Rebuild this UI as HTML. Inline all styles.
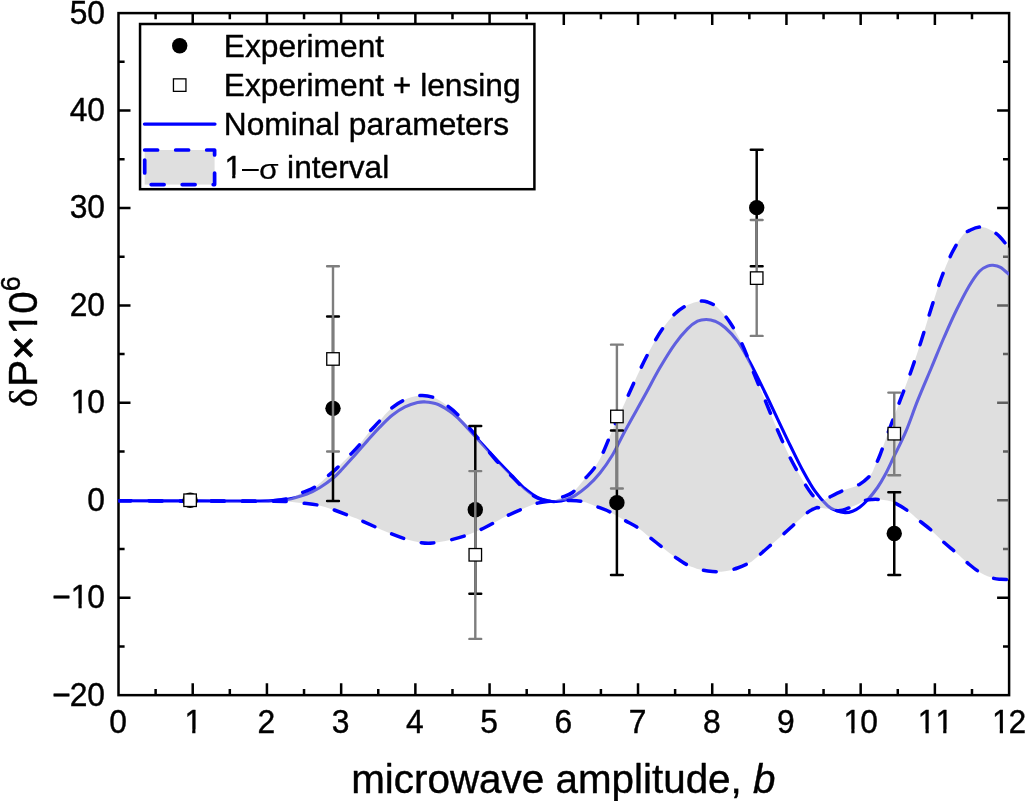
<!DOCTYPE html>
<html lang="en"><head><meta charset="utf-8"><title>Figure</title>
<style>html,body{margin:0;padding:0;background:#fff;}svg{display:block;}text{font-family:"Liberation Sans",Arial,sans-serif;fill:#000;font-kerning:none;stroke:#000;stroke-width:0.4px;stroke-linejoin:round;}</style>
</head><body>
<svg width="1025" height="801" viewBox="0 0 1025 801">
<rect width="1025" height="801" fill="#fff"/>
<g stroke="#000" stroke-width="2.5" fill="none" stroke-linecap="butt">
<rect x="118.50" y="13.10" width="890.60" height="682.05"/>
<path d="M155.61,695.15v-6.1 M155.61,13.10v6.1 M192.72,695.15v-12.0 M192.72,13.10v12.0 M229.82,695.15v-6.1 M229.82,13.10v6.1 M266.93,695.15v-12.0 M266.93,13.10v12.0 M304.04,695.15v-6.1 M304.04,13.10v6.1 M341.15,695.15v-12.0 M341.15,13.10v12.0 M378.26,695.15v-6.1 M378.26,13.10v6.1 M415.37,695.15v-12.0 M415.37,13.10v12.0 M452.48,695.15v-6.1 M452.48,13.10v6.1 M489.58,695.15v-12.0 M489.58,13.10v12.0 M526.69,695.15v-6.1 M526.69,13.10v6.1 M563.80,695.15v-12.0 M563.80,13.10v12.0 M600.91,695.15v-6.1 M600.91,13.10v6.1 M638.02,695.15v-12.0 M638.02,13.10v12.0 M675.12,695.15v-6.1 M675.12,13.10v6.1 M712.23,695.15v-12.0 M712.23,13.10v12.0 M749.34,695.15v-6.1 M749.34,13.10v6.1 M786.45,695.15v-12.0 M786.45,13.10v12.0 M823.56,695.15v-6.1 M823.56,13.10v6.1 M860.67,695.15v-12.0 M860.67,13.10v12.0 M897.78,695.15v-6.1 M897.78,13.10v6.1 M934.88,695.15v-12.0 M934.88,13.10v12.0 M971.99,695.15v-6.1 M971.99,13.10v6.1 M118.50,646.43h6.1 M1009.10,646.43h-6.1 M118.50,597.71h12.0 M1009.10,597.71h-12.0 M118.50,549.00h6.1 M1009.10,549.00h-6.1 M118.50,500.28h12.0 M1009.10,500.28h-12.0 M118.50,451.56h6.1 M1009.10,451.56h-6.1 M118.50,402.84h12.0 M1009.10,402.84h-12.0 M118.50,354.12h6.1 M1009.10,354.12h-6.1 M118.50,305.41h12.0 M1009.10,305.41h-12.0 M118.50,256.69h6.1 M1009.10,256.69h-6.1 M118.50,207.97h12.0 M1009.10,207.97h-12.0 M118.50,159.25h6.1 M1009.10,159.25h-6.1 M118.50,110.54h12.0 M1009.10,110.54h-12.0 M118.50,61.82h6.1 M1009.10,61.82h-6.1"/>
</g>
<clipPath id="c"><rect x="118.5" y="13.1" width="890.6" height="682.0"/></clipPath>
<g clip-path="url(#c)">
<path d="M118.2,500.8 C131.8,500.8 176.4,500.9 200.0,500.9 C223.6,500.9 245.4,501.2 260.0,501.0 C274.6,500.8 279.6,500.6 287.5,499.4 C295.4,498.2 302.1,495.7 307.5,493.8 C312.9,491.8 315.6,490.2 320.0,487.5 C324.4,484.8 330.0,480.6 333.8,477.5 C337.5,474.4 339.0,472.5 342.5,468.8 C346.0,465.0 350.8,459.7 355.0,455.0 C359.2,450.3 363.3,445.3 367.5,440.6 C371.7,435.9 375.8,431.2 380.0,426.9 C384.2,422.6 388.3,418.3 392.5,415.0 C396.7,411.7 400.8,409.0 405.0,406.9 C409.2,404.8 414.2,403.3 417.5,402.5 C420.8,401.7 421.9,401.7 425.0,401.9 C428.1,402.1 432.3,402.3 436.2,403.8 C440.2,405.2 445.1,408.2 448.8,410.6 C452.4,413.0 453.7,413.8 458.1,418.1 C462.5,422.4 468.9,429.6 475.0,436.2 C481.1,442.9 488.8,451.3 495.0,458.0 C501.2,464.7 507.5,471.1 512.5,476.2 C517.5,481.4 520.8,485.2 525.0,488.8 C529.2,492.3 533.3,495.4 537.5,497.5 C541.7,499.6 546.9,500.6 550.0,501.2 C553.1,501.9 553.8,501.7 556.2,501.5 C558.8,501.3 561.9,501.0 565.0,500.0 C568.1,499.0 571.2,497.9 575.0,495.6 C578.8,493.3 583.3,490.0 587.5,486.2 C591.7,482.5 595.8,478.2 600.0,473.0 C604.2,467.8 608.3,462.0 612.5,455.0 C616.7,448.0 619.6,441.0 625.0,431.0 C630.4,421.0 639.2,405.6 645.0,395.0 C650.8,384.4 655.0,376.0 660.0,367.5 C665.0,359.0 670.4,350.2 675.0,343.8 C679.6,337.3 683.8,332.5 687.5,328.8 C691.2,325.0 694.4,322.8 697.5,321.2 C700.6,319.7 703.3,319.5 706.2,319.5 C709.2,319.5 711.9,319.9 715.0,321.2 C718.1,322.6 721.2,324.2 725.0,327.5 C728.8,330.8 733.3,335.4 737.5,341.2 C741.7,347.1 745.4,354.0 750.0,362.5 C754.6,371.0 760.4,383.1 765.0,392.5 C769.6,401.9 773.3,410.0 777.5,418.8 C781.7,427.5 785.8,436.5 790.0,445.0 C794.2,453.5 798.3,462.3 802.5,470.0 C806.7,477.7 810.8,485.3 815.0,491.2 C819.2,497.2 824.0,502.4 827.5,505.6 C831.0,508.8 833.3,509.4 836.2,510.6 C839.2,511.8 842.3,512.5 845.0,512.6 C847.7,512.7 850.0,512.2 852.5,511.2 C855.0,510.3 857.5,508.8 860.0,506.9 C862.5,505.0 864.6,503.2 867.5,500.0 C870.4,496.8 874.6,491.7 877.5,487.5 C880.4,483.3 882.3,480.0 885.0,475.0 C887.7,470.0 890.0,464.8 893.5,457.5 C897.0,450.2 902.0,440.8 906.0,431.2 C910.0,421.7 913.5,410.9 917.8,400.2 C922.0,389.6 927.1,378.0 931.5,367.5 C935.9,357.0 939.8,347.1 944.0,337.5 C948.2,327.9 952.3,318.5 956.5,310.0 C960.7,301.5 965.2,292.7 969.0,286.2 C972.8,279.8 976.4,274.6 979.5,271.2 C982.6,267.9 985.2,267.2 987.5,266.2 C989.8,265.2 990.8,265.1 993.0,265.3 C995.2,265.5 997.8,265.8 1000.5,267.3 C1003.2,268.8 1007.8,273.3 1009.2,274.5" fill="none" stroke="#0000ff" stroke-width="3.1" stroke-linejoin="round"/>
<path d="M118.2,500.8 C131.8,500.8 176.4,500.9 200.0,501.0 C223.6,501.1 245.4,501.6 260.0,501.2 C274.6,500.8 280.4,500.2 287.5,498.8 C294.6,497.3 297.9,494.5 302.5,492.5 C307.1,490.5 310.8,489.6 315.0,486.9 C319.2,484.2 324.2,479.1 327.5,476.2 C330.8,473.4 331.5,473.3 335.0,470.0 C338.5,466.7 344.8,460.3 348.8,456.2 C352.7,452.2 355.4,449.6 358.8,445.6 C362.1,441.6 365.4,436.4 368.8,432.5 C372.1,428.6 375.2,425.8 378.8,421.9 C382.3,418.0 385.9,412.9 390.0,409.4 C394.1,405.8 398.2,402.9 403.1,400.6 C408.0,398.3 414.3,396.1 419.4,395.6 C424.5,395.1 429.3,395.9 433.8,397.5 C438.2,399.1 442.3,402.2 446.2,405.0 C450.2,407.8 452.7,409.5 457.5,414.4 C462.3,419.3 468.8,427.1 475.0,434.5 C481.2,441.9 488.8,451.9 495.0,459.0 C501.2,466.1 507.5,471.9 512.5,477.0 C517.5,482.1 520.8,486.0 525.0,489.5 C529.2,493.0 533.3,496.0 537.5,498.0 C541.7,500.0 546.0,501.3 550.0,501.2 C554.0,501.2 557.5,499.0 561.2,497.5 C565.0,496.0 568.8,495.4 572.5,492.5 C576.2,489.6 580.2,484.0 583.8,480.0 C587.3,476.0 590.6,473.1 593.8,468.8 C596.9,464.4 599.4,460.2 602.5,453.8 C605.6,447.3 608.8,438.5 612.5,430.0 C616.2,421.5 620.8,411.7 625.0,402.5 C629.2,393.3 633.3,383.8 637.5,375.0 C641.7,366.2 645.8,357.7 650.0,350.0 C654.2,342.3 658.3,334.8 662.5,328.8 C666.7,322.7 670.8,317.7 675.0,313.8 C679.2,309.8 683.3,307.1 687.5,305.0 C691.7,302.9 696.7,301.8 700.0,301.2 C703.3,300.8 704.6,301.0 707.5,302.0 C710.4,303.0 713.8,304.1 717.5,307.5 C721.2,310.9 725.8,316.2 730.0,322.5 C734.2,328.8 738.8,337.1 742.5,345.0 C746.2,352.9 748.8,360.8 752.5,370.0 C756.2,379.2 760.8,390.0 765.0,400.0 C769.2,410.0 773.3,420.4 777.5,430.0 C781.7,439.6 785.8,449.2 790.0,457.5 C794.2,465.8 798.6,473.5 802.5,480.0 C806.4,486.5 810.3,492.7 813.5,496.2 C816.7,499.8 820.5,500.4 821.9,501.2 C823.2,500.5 826.2,498.8 830.0,496.9 C833.8,495.0 839.5,492.1 844.4,490.0 C849.3,487.9 855.0,486.9 859.4,484.4 C863.8,481.9 868.0,478.1 870.6,475.0 C873.2,471.9 873.4,469.3 875.0,466.0 C876.6,462.7 877.5,461.4 880.0,455.0 C882.5,448.6 886.6,436.6 890.0,427.5 C893.4,418.4 896.7,409.8 900.2,400.2 C903.8,390.7 908.0,380.0 911.5,370.0 C915.0,360.0 918.2,350.4 921.5,340.0 C924.8,329.6 928.2,317.9 931.5,307.5 C934.8,297.1 938.2,286.5 941.5,277.5 C944.8,268.5 948.1,260.6 951.5,253.8 C954.9,246.9 958.8,240.2 962.0,236.2 C965.2,232.3 967.4,231.5 970.5,230.0 C973.6,228.5 977.2,227.0 980.5,227.0 C983.8,227.0 987.2,228.3 990.5,230.0 C993.8,231.7 996.9,233.9 1000.0,237.0 C1003.1,240.1 1007.7,246.6 1009.2,248.5 L1009.2,579.5 C1007.8,579.5 1003.6,579.5 1001.0,579.3 C998.4,579.1 996.8,579.3 993.5,578.3 C990.2,577.2 985.2,575.4 981.0,573.0 C976.8,570.6 972.7,567.2 968.5,563.8 C964.3,560.3 960.2,556.1 956.0,552.5 C951.8,548.9 947.7,545.8 943.5,542.0 C939.3,538.2 935.2,533.7 931.0,530.0 C926.8,526.3 922.4,523.2 918.5,520.0 C914.6,516.8 911.4,513.4 907.5,510.6 C903.6,507.8 898.3,504.8 895.0,503.1 C891.7,501.4 890.0,501.2 887.5,500.6 C885.0,500.0 882.5,499.7 880.0,499.5 C877.5,499.3 874.8,499.3 872.5,499.4 C870.2,499.5 868.5,499.5 866.2,500.2 C864.0,501.0 861.5,502.5 858.8,503.8 C856.0,505.0 852.7,506.4 850.0,507.5 C847.3,508.6 844.8,509.7 842.5,510.2 C840.2,510.8 838.8,510.9 836.2,510.6 C833.8,510.4 830.1,509.2 827.5,508.8 C824.9,508.3 822.4,508.1 820.6,507.9 C818.8,507.7 817.5,507.6 816.9,507.5 C816.2,507.8 814.3,508.4 812.5,509.4 C810.7,510.4 809.2,511.1 806.0,513.8 C802.8,516.4 797.7,521.2 793.5,525.0 C789.3,528.8 785.2,532.6 781.0,536.2 C776.8,539.9 772.7,543.4 768.5,547.0 C764.3,550.6 759.1,555.4 756.0,558.0 C752.9,560.6 753.1,560.8 750.0,562.5 C746.9,564.2 741.7,566.5 737.5,568.0 C733.3,569.5 729.2,570.7 725.0,571.2 C720.8,571.8 716.7,571.8 712.5,571.5 C708.3,571.2 704.2,570.6 700.0,569.5 C695.8,568.4 691.7,567.1 687.5,565.0 C683.3,562.9 679.2,559.9 675.0,557.0 C670.8,554.1 666.7,550.8 662.5,547.5 C658.3,544.2 654.2,540.8 650.0,537.5 C645.8,534.2 641.7,530.3 637.5,527.5 C633.3,524.7 629.6,523.1 625.0,520.5 C620.4,517.9 614.6,514.2 610.0,511.9 C605.4,509.6 602.1,508.6 597.5,506.9 C592.9,505.2 587.5,502.6 582.5,501.5 C577.5,500.4 572.9,500.6 567.5,500.6 C562.1,500.6 555.0,500.8 550.0,501.2 C545.0,501.7 542.3,501.7 537.5,503.1 C532.7,504.5 526.2,507.3 521.2,509.4 C516.2,511.5 511.0,513.9 507.5,515.6 C504.0,517.3 503.8,517.4 500.0,519.4 C496.2,521.4 490.4,524.9 485.0,527.5 C479.6,530.1 473.3,532.9 467.5,535.0 C461.7,537.1 455.8,538.7 450.0,540.0 C444.2,541.3 437.5,542.6 432.5,543.0 C427.5,543.4 424.6,543.2 420.0,542.5 C415.4,541.8 410.8,540.6 405.0,538.8 C399.2,536.9 392.5,534.4 385.0,531.2 C377.5,528.1 366.2,522.7 360.0,520.0 C353.8,517.3 352.1,516.8 347.5,515.0 C342.9,513.2 337.5,511.1 332.5,509.4 C327.5,507.7 322.5,506.1 317.5,505.0 C312.5,503.9 307.9,503.7 302.5,503.1 C297.1,502.5 292.1,501.7 285.0,501.4 C277.9,501.1 274.2,501.3 260.0,501.2 C245.8,501.1 223.6,501.1 200.0,501.0 C176.4,500.9 131.8,500.8 118.2,500.8 Z" fill="#c0c0c0" fill-opacity="0.5" stroke="none"/>
<path d="M118.2,500.8 C131.8,500.8 176.4,500.9 200.0,501.0 C223.6,501.1 245.4,501.6 260.0,501.2 C274.6,500.8 280.4,500.2 287.5,498.8 C294.6,497.3 297.9,494.5 302.5,492.5 C307.1,490.5 310.8,489.6 315.0,486.9 C319.2,484.2 324.2,479.1 327.5,476.2 C330.8,473.4 331.5,473.3 335.0,470.0 C338.5,466.7 344.8,460.3 348.8,456.2 C352.7,452.2 355.4,449.6 358.8,445.6 C362.1,441.6 365.4,436.4 368.8,432.5 C372.1,428.6 375.2,425.8 378.8,421.9 C382.3,418.0 385.9,412.9 390.0,409.4 C394.1,405.8 398.2,402.9 403.1,400.6 C408.0,398.3 414.3,396.1 419.4,395.6 C424.5,395.1 429.3,395.9 433.8,397.5 C438.2,399.1 442.3,402.2 446.2,405.0 C450.2,407.8 452.7,409.5 457.5,414.4 C462.3,419.3 468.8,427.1 475.0,434.5 C481.2,441.9 488.8,451.9 495.0,459.0 C501.2,466.1 507.5,471.9 512.5,477.0 C517.5,482.1 520.8,486.0 525.0,489.5 C529.2,493.0 533.3,496.0 537.5,498.0 C541.7,500.0 546.0,501.3 550.0,501.2 C554.0,501.2 557.5,499.0 561.2,497.5 C565.0,496.0 568.8,495.4 572.5,492.5 C576.2,489.6 580.2,484.0 583.8,480.0 C587.3,476.0 590.6,473.1 593.8,468.8 C596.9,464.4 599.4,460.2 602.5,453.8 C605.6,447.3 608.8,438.5 612.5,430.0 C616.2,421.5 620.8,411.7 625.0,402.5 C629.2,393.3 633.3,383.8 637.5,375.0 C641.7,366.2 645.8,357.7 650.0,350.0 C654.2,342.3 658.3,334.8 662.5,328.8 C666.7,322.7 670.8,317.7 675.0,313.8 C679.2,309.8 683.3,307.1 687.5,305.0 C691.7,302.9 696.7,301.8 700.0,301.2 C703.3,300.8 704.6,301.0 707.5,302.0 C710.4,303.0 713.8,304.1 717.5,307.5 C721.2,310.9 725.8,316.2 730.0,322.5 C734.2,328.8 738.8,337.1 742.5,345.0 C746.2,352.9 748.8,360.8 752.5,370.0 C756.2,379.2 760.8,390.0 765.0,400.0 C769.2,410.0 773.3,420.4 777.5,430.0 C781.7,439.6 785.8,449.2 790.0,457.5 C794.2,465.8 798.6,473.5 802.5,480.0 C806.4,486.5 810.3,492.7 813.5,496.2 C816.7,499.8 820.5,500.4 821.9,501.2" fill="none" stroke="#0000ff" stroke-width="3.5" stroke-dasharray="12.9 18.1" stroke-linecap="round" stroke-linejoin="round"/>
<path d="M821.9,501.2 C823.2,500.5 826.2,498.8 830.0,496.9 C833.8,495.0 839.5,492.1 844.4,490.0 C849.3,487.9 855.0,486.9 859.4,484.4 C863.8,481.9 868.0,478.1 870.6,475.0 C873.2,471.9 873.4,469.3 875.0,466.0 C876.6,462.7 877.5,461.4 880.0,455.0 C882.5,448.6 886.6,436.6 890.0,427.5 C893.4,418.4 896.7,409.8 900.2,400.2 C903.8,390.7 908.0,380.0 911.5,370.0 C915.0,360.0 918.2,350.4 921.5,340.0 C924.8,329.6 928.2,317.9 931.5,307.5 C934.8,297.1 938.2,286.5 941.5,277.5 C944.8,268.5 948.1,260.6 951.5,253.8 C954.9,246.9 958.8,240.2 962.0,236.2 C965.2,232.3 967.4,231.5 970.5,230.0 C973.6,228.5 977.2,227.0 980.5,227.0 C983.8,227.0 987.2,228.3 990.5,230.0 C993.8,231.7 996.9,233.9 1000.0,237.0 C1003.1,240.1 1007.7,246.6 1009.2,248.5" fill="none" stroke="#0000ff" stroke-width="3.5" stroke-dasharray="12.9 18.1" stroke-dashoffset="-9.3" stroke-linecap="round" stroke-linejoin="round"/>
<path d="M118.2,500.8 C131.8,500.8 176.4,500.9 200.0,501.0 C223.6,501.1 245.8,501.1 260.0,501.2 C274.2,501.3 277.9,501.1 285.0,501.4 C292.1,501.7 297.1,502.5 302.5,503.1 C307.9,503.7 312.5,503.9 317.5,505.0 C322.5,506.1 327.5,507.7 332.5,509.4 C337.5,511.1 342.9,513.2 347.5,515.0 C352.1,516.8 353.8,517.3 360.0,520.0 C366.2,522.7 377.5,528.1 385.0,531.2 C392.5,534.4 399.2,536.9 405.0,538.8 C410.8,540.6 415.4,541.8 420.0,542.5 C424.6,543.2 427.5,543.4 432.5,543.0 C437.5,542.6 444.2,541.3 450.0,540.0 C455.8,538.7 461.7,537.1 467.5,535.0 C473.3,532.9 479.6,530.1 485.0,527.5 C490.4,524.9 496.2,521.4 500.0,519.4 C503.8,517.4 504.0,517.3 507.5,515.6 C511.0,513.9 516.2,511.5 521.2,509.4 C526.2,507.3 532.7,504.5 537.5,503.1 C542.3,501.7 545.0,501.7 550.0,501.2 C555.0,500.8 562.1,500.6 567.5,500.6 C572.9,500.6 577.5,500.4 582.5,501.5 C587.5,502.6 592.9,505.2 597.5,506.9 C602.1,508.6 605.4,509.6 610.0,511.9 C614.6,514.2 620.4,517.9 625.0,520.5 C629.6,523.1 633.3,524.7 637.5,527.5 C641.7,530.3 645.8,534.2 650.0,537.5 C654.2,540.8 658.3,544.2 662.5,547.5 C666.7,550.8 670.8,554.1 675.0,557.0 C679.2,559.9 683.3,562.9 687.5,565.0 C691.7,567.1 695.8,568.4 700.0,569.5 C704.2,570.6 708.3,571.2 712.5,571.5 C716.7,571.8 720.8,571.8 725.0,571.2 C729.2,570.7 733.3,569.5 737.5,568.0 C741.7,566.5 746.9,564.2 750.0,562.5 C753.1,560.8 752.9,560.6 756.0,558.0 C759.1,555.4 764.3,550.6 768.5,547.0 C772.7,543.4 776.8,539.9 781.0,536.2 C785.2,532.6 789.3,528.8 793.5,525.0 C797.7,521.2 802.8,516.4 806.0,513.8 C809.2,511.1 810.7,510.4 812.5,509.4 C814.3,508.4 816.2,507.8 816.9,507.5 C817.5,507.6 818.8,507.7 820.6,507.9 C822.4,508.1 824.9,508.3 827.5,508.8 C830.1,509.2 833.8,510.4 836.2,510.6 C838.8,510.9 840.2,510.8 842.5,510.2 C844.8,509.7 847.3,508.6 850.0,507.5 C852.7,506.4 856.0,505.0 858.8,503.8 C861.5,502.5 864.0,501.0 866.2,500.2 C868.5,499.5 870.2,499.5 872.5,499.4 C874.8,499.3 877.5,499.3 880.0,499.5 C882.5,499.7 885.0,500.0 887.5,500.6 C890.0,501.2 891.7,501.4 895.0,503.1 C898.3,504.8 903.6,507.8 907.5,510.6 C911.4,513.4 914.6,516.8 918.5,520.0 C922.4,523.2 926.8,526.3 931.0,530.0 C935.2,533.7 939.3,538.2 943.5,542.0 C947.7,545.8 951.8,548.9 956.0,552.5 C960.2,556.1 964.3,560.3 968.5,563.8 C972.7,567.2 976.8,570.6 981.0,573.0 C985.2,575.4 990.2,577.2 993.5,578.3 C996.8,579.3 998.4,579.1 1001.0,579.3 C1003.6,579.5 1007.8,579.5 1009.2,579.5" fill="none" stroke="#0000ff" stroke-width="3.5" stroke-dasharray="12.9 18.1" stroke-linecap="round" stroke-linejoin="round"/>
</g>
<g stroke="#000" stroke-width="2.50" fill="none" stroke-linecap="round">
<path d="M333.00,501.12V316.40 M327.10,501.12h11.80 M327.10,316.40h11.80 M475.30,593.77V426.00 M469.40,593.77h11.80 M469.40,426.00h11.80 M616.90,574.97V430.58 M611.00,574.97h11.80 M611.00,430.58h11.80 M756.70,266.22V149.69 M750.80,266.22h11.80 M750.80,149.69h11.80 M894.25,574.97V492.35 M888.35,574.97h11.80 M888.35,492.35h11.80"/>
</g>
<circle cx="190.10" cy="500.24" r="7.7" fill="#000"/>
<circle cx="333.00" cy="408.37" r="7.7" fill="#000"/>
<circle cx="475.30" cy="509.69" r="7.7" fill="#000"/>
<circle cx="616.90" cy="502.68" r="7.7" fill="#000"/>
<circle cx="756.70" cy="207.66" r="7.7" fill="#000"/>
<circle cx="894.25" cy="533.47" r="7.7" fill="#000"/>
<g stroke="#7e7e7e" stroke-width="2.40" fill="none" stroke-linecap="round">
<path d="M333.00,451.53V266.22 M327.10,451.53h11.80 M327.10,266.22h11.80 M475.30,638.88V471.11 M469.40,638.88h11.80 M469.40,471.11h11.80 M616.90,488.55V344.65 M611.00,488.55h11.80 M611.00,344.65h11.80 M756.70,335.88V219.94 M750.80,335.88h11.80 M750.80,219.94h11.80 M894.25,475.20V392.58 M888.35,475.20h11.80 M888.35,392.58h11.80"/>
</g>
<rect x="183.85" y="493.99" width="12.5" height="12.5" fill="#fff" stroke="#000" stroke-width="1.3"/>
<rect x="326.75" y="352.72" width="12.5" height="12.5" fill="#fff" stroke="#000" stroke-width="1.3"/>
<rect x="469.05" y="548.55" width="12.5" height="12.5" fill="#fff" stroke="#000" stroke-width="1.3"/>
<rect x="610.65" y="410.20" width="12.5" height="12.5" fill="#fff" stroke="#000" stroke-width="1.3"/>
<rect x="750.45" y="271.86" width="12.5" height="12.5" fill="#fff" stroke="#000" stroke-width="1.3"/>
<rect x="888.00" y="427.45" width="12.5" height="12.5" fill="#fff" stroke="#000" stroke-width="1.3"/>
<g font-size="31.8px">
<g transform="translate(0,733.20) scale(1,1.04)">
<text x="109.16" y="0">0</text>
</g>
<g transform="translate(0,733.20) scale(1,1.04)">
<text x="184.42" y="0">1</text>
<path fill="#fff" d="M184.85,-3.58h7.37v5.78h-7.37z M195.43,-3.58h7.13v5.78h-7.13z"/>
</g>
<g transform="translate(0,733.20) scale(1,1.04)">
<text x="257.59" y="0">2</text>
</g>
<g transform="translate(0,733.20) scale(1,1.04)">
<text x="331.81" y="0">3</text>
</g>
<g transform="translate(0,733.20) scale(1,1.04)">
<text x="406.02" y="0">4</text>
</g>
<g transform="translate(0,733.20) scale(1,1.04)">
<text x="480.24" y="0">5</text>
</g>
<g transform="translate(0,733.20) scale(1,1.04)">
<text x="554.46" y="0">6</text>
</g>
<g transform="translate(0,733.20) scale(1,1.04)">
<text x="628.67" y="0">7</text>
</g>
<g transform="translate(0,733.20) scale(1,1.04)">
<text x="702.89" y="0">8</text>
</g>
<g transform="translate(0,733.20) scale(1,1.04)">
<text x="777.11" y="0">9</text>
</g>
<g transform="translate(0,733.20) scale(1,1.04)">
<text x="843.53 860.17" y="0">10</text>
<path fill="#fff" d="M843.95,-3.58h7.37v5.78h-7.37z M854.54,-3.58h7.13v5.78h-7.13z"/>
</g>
<g transform="translate(0,733.20) scale(1,1.04)">
<text x="917.75 935.43" y="0">11</text>
<path fill="#fff" d="M918.17,-3.58h7.37v5.78h-7.37z M928.75,-3.58h7.13v5.78h-7.13z"/>
<path fill="#fff" d="M935.85,-3.58h7.37v5.78h-7.37z M946.44,-3.58h7.13v5.78h-7.13z"/>
</g>
<g transform="translate(0,733.20) scale(1,1.04)">
<text x="991.96 1008.60" y="0">12</text>
<path fill="#fff" d="M992.39,-3.58h7.37v5.78h-7.37z M1002.97,-3.58h7.13v5.78h-7.13z"/>
</g>
<g transform="translate(0,705.65) scale(1,1.04)">
<text x="52.11 69.63 87.31" y="0">−20</text>
</g>
<g transform="translate(0,608.21) scale(1,1.04)">
<text x="52.11 70.68 87.31" y="0">−10</text>
<path fill="#fff" d="M71.10,-3.58h7.37v5.78h-7.37z M81.69,-3.58h7.13v5.78h-7.13z"/>
</g>
<g transform="translate(0,510.78) scale(1,1.04)">
<text x="87.31" y="0">0</text>
</g>
<g transform="translate(0,413.34) scale(1,1.04)">
<text x="70.68 87.31" y="0">10</text>
<path fill="#fff" d="M71.10,-3.58h7.37v5.78h-7.37z M81.69,-3.58h7.13v5.78h-7.13z"/>
</g>
<g transform="translate(0,315.91) scale(1,1.04)">
<text x="69.63 87.31" y="0">20</text>
</g>
<g transform="translate(0,218.47) scale(1,1.04)">
<text x="69.63 87.31" y="0">30</text>
</g>
<g transform="translate(0,121.04) scale(1,1.04)">
<text x="69.63 87.31" y="0">40</text>
</g>
<g transform="translate(0,23.60) scale(1,1.04)">
<text x="69.63 87.31" y="0">50</text>
</g>
</g>
<text x="351.2" y="792.6" font-size="40.4px">microwave amplitude, <tspan font-style="italic">b</tspan></text>
<g transform="translate(36.7,407.3) rotate(-90)" font-size="40.4px">
<text x="0" y="0"><tspan font-family="'Liberation Serif',serif">δ</tspan><tspan dx="1.6">P</tspan><tspan style="stroke-width:1.1px">×</tspan><tspan dx="1.33">1</tspan><tspan dx="-1.33">0</tspan><tspan font-size="27px" dy="-16.3">6</tspan></text>
<path fill="#fff" d="M73.59,-4.22h8.88v6.42h-8.88z M86.44,-4.22h8.57v6.42h-8.57z"/>
</g>
<rect x="140.05" y="24" width="394.35" height="165.2" fill="#fff" stroke="#000" stroke-width="2.5"/>
<circle cx="179.7" cy="45.8" r="7.7" fill="#000"/>
<rect x="173.45" y="78.85" width="12.5" height="12.5" fill="#fff" stroke="#000" stroke-width="1.3"/>
<path d="M144.4,124.1H215" stroke="#0000ff" stroke-width="3.2" stroke-linecap="round" fill="none"/>
<rect x="144.7" y="150" width="69.9" height="34.6" fill="#dfdfdf" stroke="#0000ff" stroke-width="3.7" stroke-dasharray="12.9 18.1" stroke-linecap="round" stroke-linejoin="round"/>
<g font-size="31.7px">
<text x="223.8" y="57">Experiment</text>
<text x="223.8" y="95.8">Experiment + lensing</text>
<text x="223.8" y="135">Nominal parameters</text>
<text x="224.4" y="178.2">1</text>
<path fill="#fff" d="M224.81,174.63h7.36v5.77h-7.36z M235.37,174.63h7.11v5.77h-7.11z"/>
<text x="241.9" y="177.55" font-size="30.2px" style="stroke:none">–</text>
<text transform="translate(258.9,178.7) scale(1,0.885)" style="stroke-width:0.2px">σ</text>
<text x="287.1" y="178.2">interval</text>
</g>
</svg>
</body></html>
